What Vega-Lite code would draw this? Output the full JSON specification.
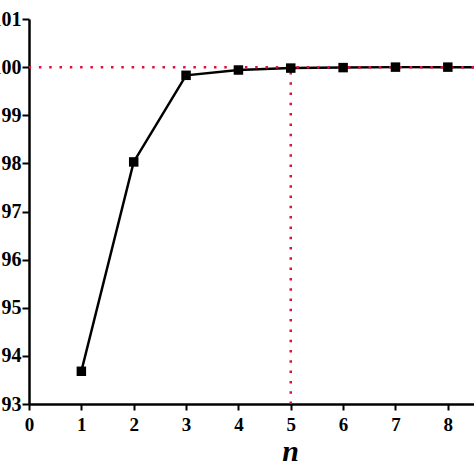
{
  "$schema": "https://vega.github.io/schema/vega-lite/v6.json",
  "width": 445,
  "height": 385,
  "autosize": {"type": "none"},
  "padding": {"left": 29, "top": 19, "right": 0, "bottom": 70},
  "background": "white",
  "config": {
    "view": {"stroke": null},
    "font": "Liberation Serif",
    "axis": {
      "labelFont": "Liberation Serif",
      "labelFontWeight": "bold",
      "labelFontSize": 19,
      "labelColor": "black",
      "titleFont": "Liberation Serif",
      "titleColor": "black",
      "domainColor": "black",
      "domainWidth": 2.5,
      "tickColor": "black",
      "tickWidth": 2,
      "grid": false,
      "labelFlush": false,
      "labelOverlap": false
    }
  },
  "datasets": {
    "pts": [
      {"n": 1, "v": 93.68},
      {"n": 2, "v": 98.03},
      {"n": 3, "v": 99.83},
      {"n": 4, "v": 99.94},
      {"n": 5, "v": 99.98},
      {"n": 6, "v": 99.99},
      {"n": 7, "v": 100.0},
      {"n": 8, "v": 100.0},
      {"n": 9, "v": 100.0}
    ],
    "hrule": [{"v": 100}],
    "vrule": [{"n": 5, "v0": 93, "v1": 100}]
  },
  "layer": [
    {
      "data": {"name": "pts"},
      "mark": {"type": "line", "color": "black", "strokeWidth": 2.5, "clip": true},
      "encoding": {
        "x": {
          "field": "n", "type": "quantitative",
          "scale": {"domain": [0, 8.5], "nice": false, "zero": false},
          "axis": {
            "title": "n",
            "titleFont": "Liberation Serif",
            "titleFontSize": 30,
            "titleFontStyle": "italic",
            "titleFontWeight": "bold",
            "titleX": 261,
            "titlePadding": 2,
            "labelFont": "Liberation Serif",
            "labelFontWeight": "bold",
            "labelFontSize": 19,
            "values": [0, 0.5, 1, 1.5, 2, 2.5, 3, 3.5, 4, 4.5, 5, 5.5, 6, 6.5, 7, 7.5, 8, 8.5],
            "labelExpr": "datum.value % 1 === 0 ? datum.label : ''",
            "tickSize": {"condition": {"test": "datum.value % 1 === 0", "value": 6}, "value": 4},
            "labelPadding": 5
          }
        },
        "y": {
          "field": "v", "type": "quantitative",
          "scale": {"domain": [93, 101], "nice": false, "zero": false},
          "axis": {
            "title": null,
            "labelFont": "Liberation Serif",
            "labelFontWeight": "bold",
            "labelFontSize": 20,
            "values": [93, 93.5, 94, 94.5, 95, 95.5, 96, 96.5, 97, 97.5, 98, 98.5, 99, 99.5, 100, 100.5, 101],
            "labelExpr": "datum.value % 1 === 0 ? datum.label : ''",
            "tickSize": {"condition": {"test": "datum.value % 1 === 0", "value": 7}, "value": 4},
            "labelPadding": 1
          }
        }
      }
    },
    {
      "data": {"name": "hrule"},
      "mark": {"type": "rule", "color": "#e0103c", "strokeWidth": 2.5, "strokeDash": [2.5, 7.8]},
      "encoding": {
        "y": {"field": "v", "type": "quantitative"}
      }
    },
    {
      "data": {"name": "vrule"},
      "mark": {"type": "rule", "color": "#e0103c", "strokeWidth": 2.5, "strokeDash": [2.5, 7.8]},
      "encoding": {
        "x": {"field": "n", "type": "quantitative"},
        "y": {"field": "v0", "type": "quantitative"},
        "y2": {"field": "v1"}
      }
    },
    {
      "data": {"name": "pts"},
      "mark": {"type": "point", "shape": "square", "filled": true, "color": "black", "opacity": 1, "size": 90, "clip": true},
      "encoding": {
        "x": {"field": "n", "type": "quantitative"},
        "y": {"field": "v", "type": "quantitative"}
      }
    }
  ]
}
